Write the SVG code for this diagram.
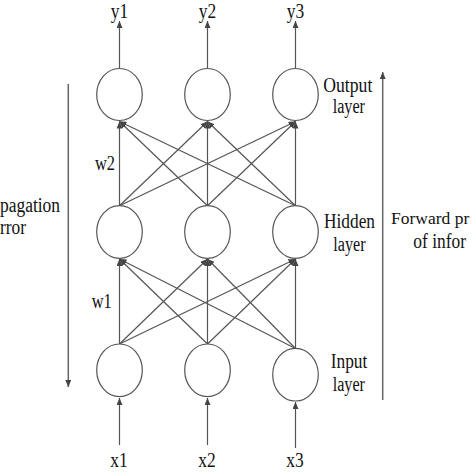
<svg xmlns="http://www.w3.org/2000/svg" width="474" height="474" viewBox="0 0 474 474">
<style>
.n{fill:#fff;stroke:#555;stroke-width:1.2}
.c{stroke:#555;stroke-width:1.2;fill:none;marker-end:url(#ah)}
.b{stroke:#666;stroke-width:1.5;fill:none;marker-end:url(#ah)}
text{font-family:"Liberation Serif","Times New Roman",serif;font-size:20px;fill:#111}
.m{text-anchor:middle}
</style>
<defs>
<marker id="ah" markerUnits="userSpaceOnUse" markerWidth="8" markerHeight="6" refX="7" refY="3" orient="auto">
<path d="M0,0 L7,3 L0,6 z" fill="#444"/>
</marker>
</defs>
<rect width="474" height="474" fill="#fff"/>
<g id="connectors">
<line class="c" x1="119.5" y1="445" x2="119.5" y2="398"/>
<line class="c" x1="207.5" y1="445" x2="207.5" y2="398"/>
<line class="c" x1="295.5" y1="448" x2="295.5" y2="402"/>
<line class="c" x1="119.5" y1="344" x2="119.5" y2="259"/>
<line class="c" x1="119.5" y1="344" x2="207.5" y2="259"/>
<line class="c" x1="119.5" y1="344" x2="295.5" y2="259"/>
<line class="c" x1="207.5" y1="344" x2="119.5" y2="259"/>
<line class="c" x1="207.5" y1="344" x2="207.5" y2="259"/>
<line class="c" x1="207.5" y1="344" x2="295.5" y2="259"/>
<line class="c" x1="295.5" y1="348.5" x2="119.5" y2="259"/>
<line class="c" x1="295.5" y1="348.5" x2="207.5" y2="259"/>
<line class="c" x1="295.5" y1="348.5" x2="295.5" y2="259"/>
<line class="c" x1="119.5" y1="205.7" x2="119.5" y2="121.5"/>
<line class="c" x1="119.5" y1="205.7" x2="207.5" y2="121.5"/>
<line class="c" x1="119.5" y1="205.7" x2="295.5" y2="121.5"/>
<line class="c" x1="207.5" y1="205.7" x2="119.5" y2="121.5"/>
<line class="c" x1="207.5" y1="205.7" x2="207.5" y2="121.5"/>
<line class="c" x1="207.5" y1="205.7" x2="295.5" y2="121.5"/>
<line class="c" x1="295.5" y1="205.7" x2="119.5" y2="121.5"/>
<line class="c" x1="295.5" y1="205.7" x2="207.5" y2="121.5"/>
<line class="c" x1="295.5" y1="205.7" x2="295.5" y2="121.5"/>
<line class="c" x1="119.5" y1="68.5" x2="119.5" y2="21"/>
<line class="c" x1="207.5" y1="68.5" x2="207.5" y2="21"/>
<line class="c" x1="295.5" y1="68.5" x2="295.5" y2="21"/>
<line class="b" x1="68.3" y1="84" x2="68.3" y2="387"/>
<line class="b" x1="382.7" y1="400" x2="382.7" y2="72"/>
</g>
<g id="out1"><ellipse class="n" cx="119.5" cy="94.5" rx="22.8" ry="26"/></g>
<g id="out2"><ellipse class="n" cx="207.5" cy="94.5" rx="22.8" ry="26"/></g>
<g id="out3"><ellipse class="n" cx="295.5" cy="94.5" rx="22.8" ry="26"/></g>
<g id="hid1"><ellipse class="n" cx="119.5" cy="232" rx="22.8" ry="26.3"/></g>
<g id="hid2"><ellipse class="n" cx="207.5" cy="232" rx="22.8" ry="26.3"/></g>
<g id="hid3"><ellipse class="n" cx="295.5" cy="232" rx="22.8" ry="26.3"/></g>
<g id="in1"><ellipse class="n" cx="119.5" cy="370.3" rx="22.8" ry="26.3"/></g>
<g id="in2"><ellipse class="n" cx="207.5" cy="370.3" rx="22.8" ry="26.3"/></g>
<g id="in3"><ellipse class="n" cx="295.5" cy="374.7" rx="22.8" ry="26.3"/></g>
<g id="labels">
<text class="m" x="119.5" y="18" textLength="17.4" lengthAdjust="spacingAndGlyphs">y1</text>
<text class="m" x="207.5" y="18" textLength="17.4" lengthAdjust="spacingAndGlyphs">y2</text>
<text class="m" x="295.5" y="18" textLength="17.4" lengthAdjust="spacingAndGlyphs">y3</text>
<text class="m" x="119" y="466.5" textLength="17.4" lengthAdjust="spacingAndGlyphs">x1</text>
<text class="m" x="207" y="466.5" textLength="17.4" lengthAdjust="spacingAndGlyphs">x2</text>
<text class="m" x="295" y="466.5" textLength="17.4" lengthAdjust="spacingAndGlyphs">x3</text>
<text x="95" y="170" textLength="20" lengthAdjust="spacingAndGlyphs">w2</text>
<text x="91.7" y="308.3" textLength="20" lengthAdjust="spacingAndGlyphs">w1</text>
<text x="323.3" y="91.7" textLength="49" lengthAdjust="spacingAndGlyphs">Output</text>
<text x="332.7" y="113.3" textLength="32.3" lengthAdjust="spacingAndGlyphs">layer</text>
<text x="324" y="228.3" textLength="51" lengthAdjust="spacingAndGlyphs">Hidden</text>
<text x="333.3" y="250.7" textLength="32.3" lengthAdjust="spacingAndGlyphs">layer</text>
<text x="330.7" y="368.3" textLength="36.6" lengthAdjust="spacingAndGlyphs">Input</text>
<text x="332.7" y="390.7" textLength="32.3" lengthAdjust="spacingAndGlyphs">layer</text>
<text x="0" y="212" textLength="60" lengthAdjust="spacingAndGlyphs">pagation</text>
<text x="0" y="234" textLength="26" lengthAdjust="spacingAndGlyphs">rror</text>
<text x="391" y="223.5" style="font-size:17.5px">Forward pr</text>
<text x="413.3" y="248" textLength="52.7" lengthAdjust="spacingAndGlyphs">of infor</text>
</g>
</svg>
